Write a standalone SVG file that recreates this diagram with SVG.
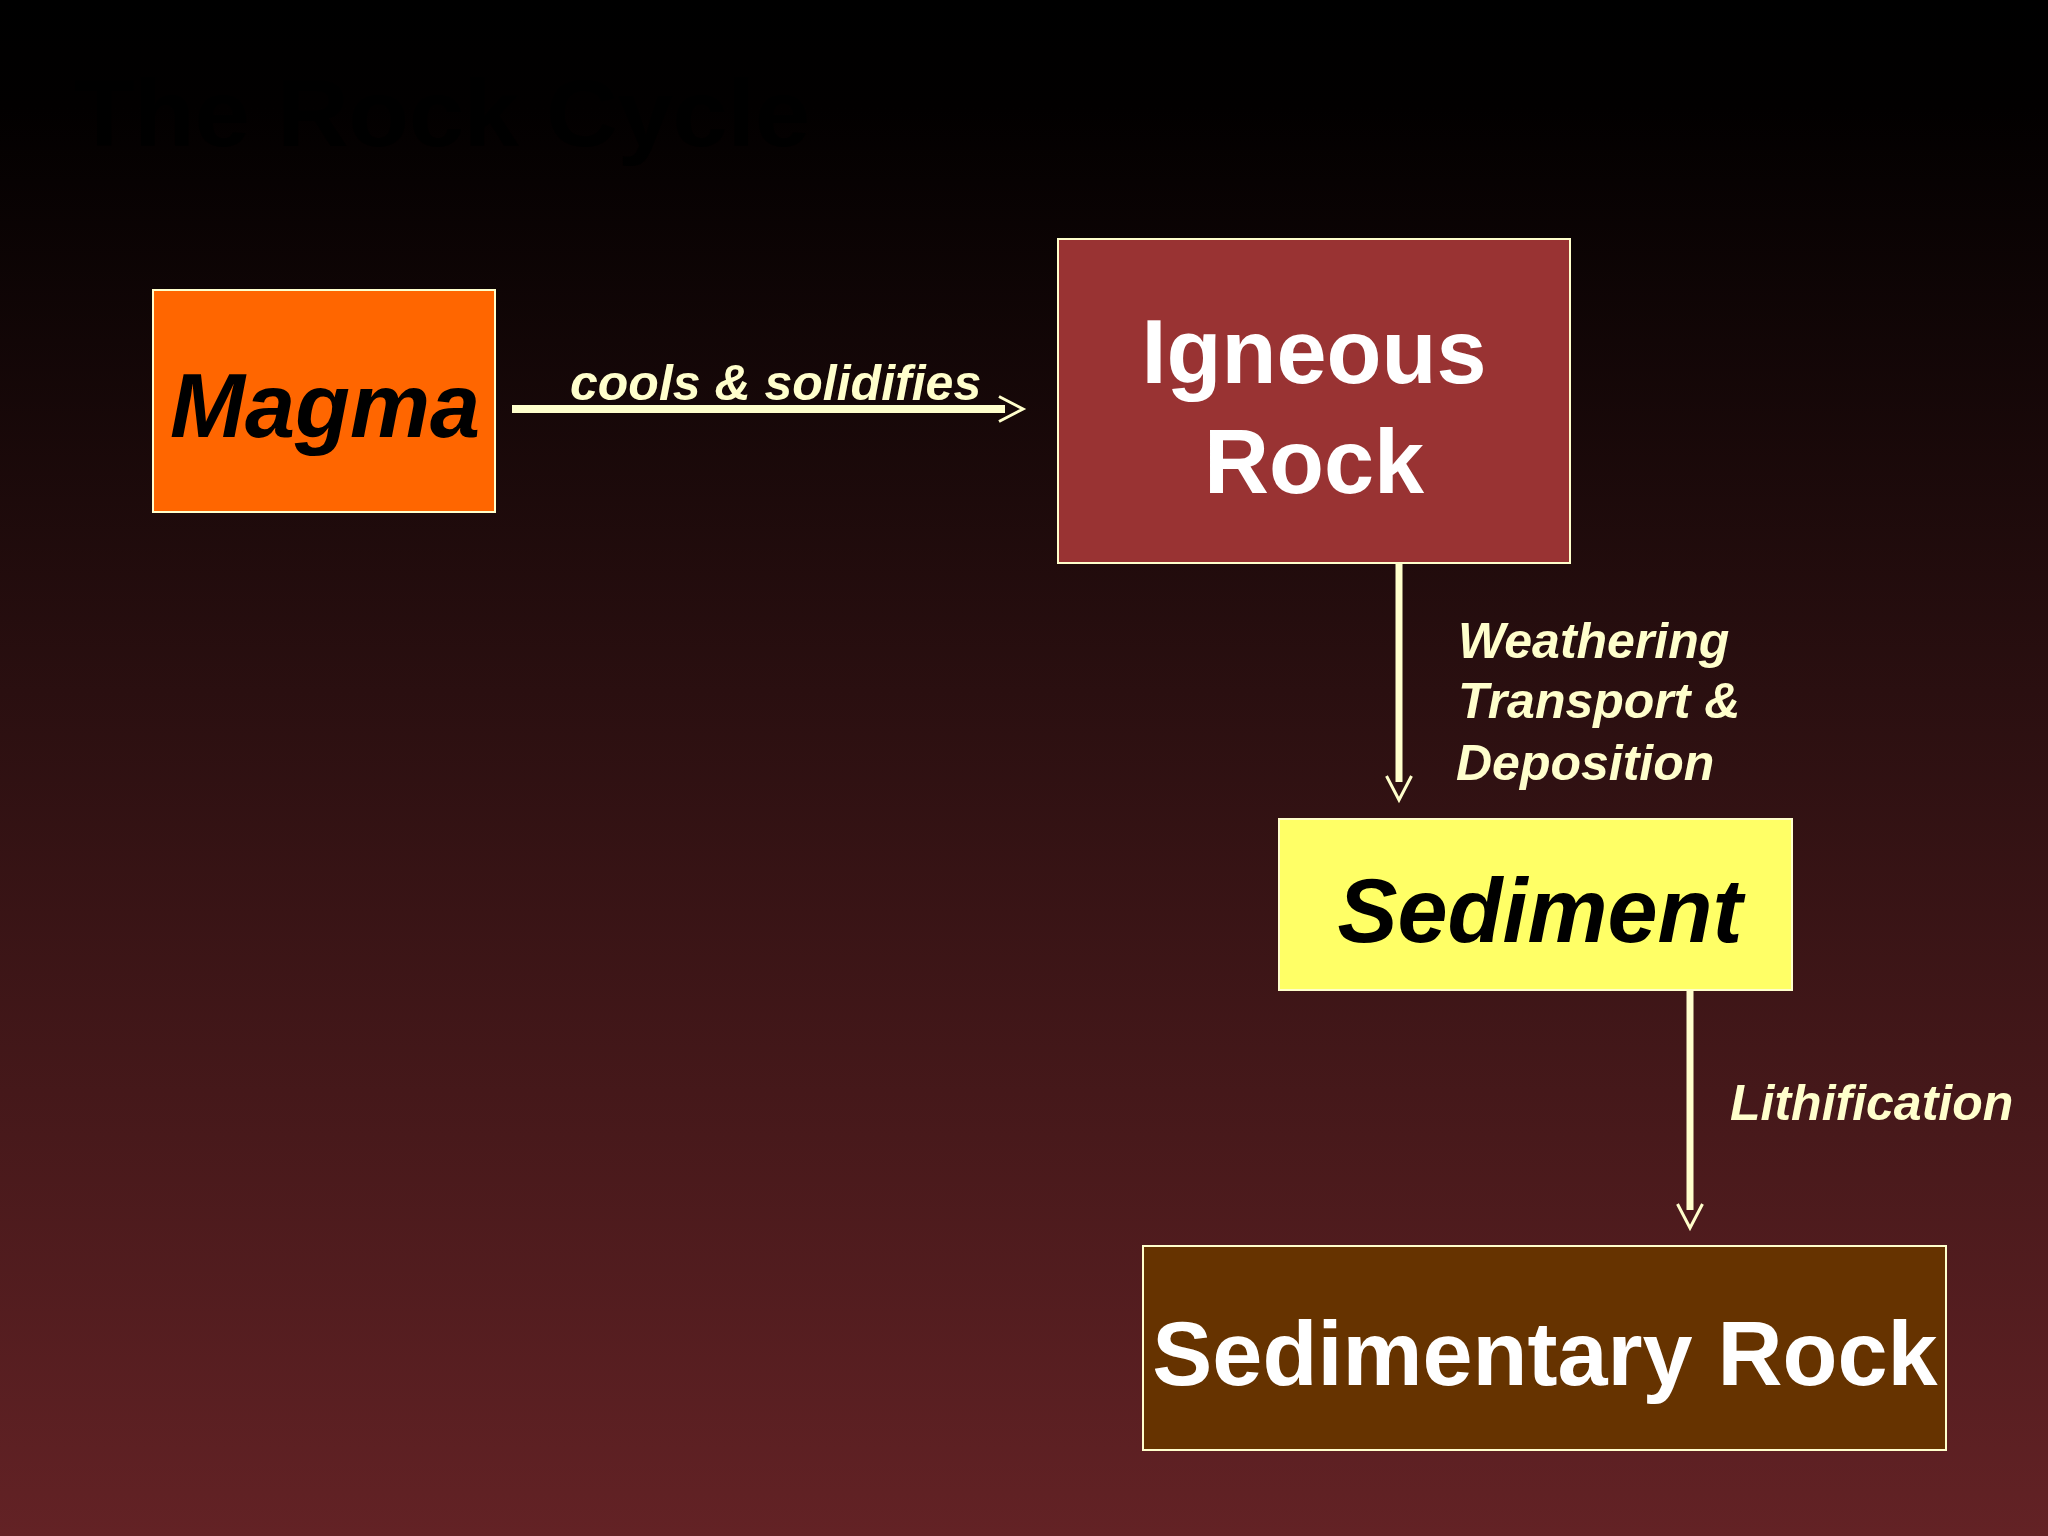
<svg xmlns="http://www.w3.org/2000/svg" width="2048" height="1536" viewBox="0 0 2048 1536">
<defs>
<linearGradient id="bg" x1="0" y1="0" x2="0" y2="1">
<stop offset="0" stop-color="#000000"/>
<stop offset="0.07" stop-color="#020000"/>
<stop offset="0.45" stop-color="#2a0f10"/>
<stop offset="1" stop-color="#632225"/>
</linearGradient>
<marker id="chev" viewBox="-8 -15 30 30" markerWidth="30" markerHeight="30" refX="0" refY="0" markerUnits="userSpaceOnUse" orient="auto">
<path d="M-6,-12.5 L18,0 L-6,12.5" fill="none" stroke="#FFFFCC" stroke-width="3"/>
</marker>
</defs>
<style>
.box{stroke:#FFFFCC;stroke-width:2}
.big{font-family:"Liberation Sans",Arial,sans-serif;font-weight:bold;font-size:90px;text-anchor:middle}
.it{font-style:italic}
.lbl{font-family:"Liberation Sans",Arial,sans-serif;font-weight:bold;font-style:italic;font-size:50px;fill:#FFFFCC}
.conn{stroke:#FFFFCC;fill:none}
</style>
<rect x="0" y="0" width="2048" height="1536" fill="url(#bg)"/>
<text x="74" y="146" font-family="'Liberation Sans',Arial,sans-serif" font-weight="bold" font-size="94" fill="#000000" textLength="736" lengthAdjust="spacingAndGlyphs">The Rock Cycle</text>
<g id="connectors">
<line class="conn" x1="512" y1="409" x2="1005" y2="409" stroke-width="8" marker-end="url(#chev)"/>
<line class="conn" x1="1399" y1="563" x2="1399" y2="782" stroke-width="7" marker-end="url(#chev)"/>
<line class="conn" x1="1690" y1="990" x2="1690" y2="1210" stroke-width="7" marker-end="url(#chev)"/>
<text class="lbl" x="570" y="400">cools &amp; solidifies</text>
<text class="lbl" x="1458" y="658">Weathering</text>
<text class="lbl" x="1458" y="718">Transport &amp;</text>
<text class="lbl" x="1456" y="780">Deposition</text>
<text class="lbl" x="1730" y="1120">Lithification</text>
</g>
<g id="magma">
<rect class="box" x="153" y="290" width="342" height="222" fill="#FF6600"/>
<text class="big it" x="325" y="437" fill="#000000">Magma</text>
</g>
<g id="igneous-rock">
<rect class="box" x="1058" y="239" width="512" height="324" fill="#993333"/>
<text class="big" x="1314" y="383" fill="#FFFFFF">Igneous</text>
<text class="big" x="1314" y="493" fill="#FFFFFF">Rock</text>
</g>
<g id="sediment">
<rect class="box" x="1279" y="819" width="513" height="171" fill="#FFFF66"/>
<text class="big it" x="1540" y="942" fill="#000000">Sediment</text>
</g>
<g id="sedimentary-rock">
<rect class="box" x="1143" y="1246" width="803" height="204" fill="#663300"/>
<text class="big" x="1545" y="1385" fill="#FFFFFF">Sedimentary Rock</text>
</g>
</svg>
